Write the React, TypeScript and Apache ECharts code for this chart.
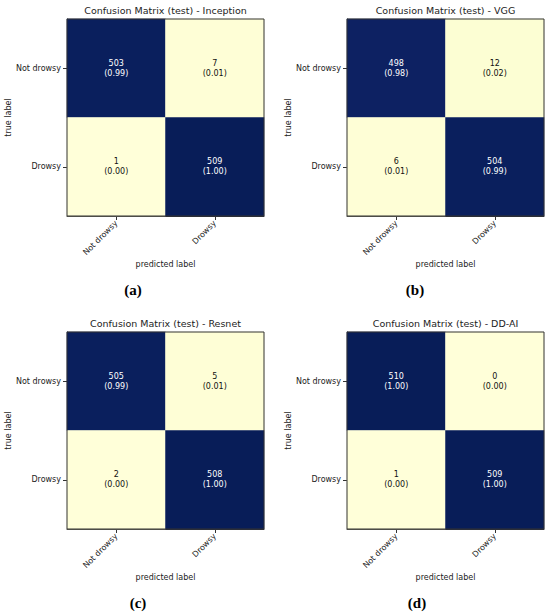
import * as echarts from "echarts";
import { useEffect, useRef } from "react";

const classes = ["Not drowsy", "Drowsy"];
const modelNames = ["Inception", "VGG", "Resnet", "DD-AI"];
const captions = ["(a)", "(b)", "(c)", "(d)"];

// counts per row = true label, column = predicted label
const inceptionCounts = [[503, 7], [1, 509]];
const vggCounts = [[498, 12], [6, 504]];
const resnetCounts = [[505, 5], [2, 508]];
const ddaiCounts = [[510, 0], [1, 509]];

// normalised values as printed under each count
const inceptionRatios = [[0.99, 0.01], [0.0, 1.0]];
const vggRatios = [[0.98, 0.02], [0.01, 0.99]];
const resnetRatios = [[0.99, 0.01], [0.0, 1.0]];
const ddaiRatios = [[1.0, 0.0], [0.0, 1.0]];

const allCounts = [inceptionCounts, vggCounts, resnetCounts, ddaiCounts];
const allRatios = [inceptionRatios, vggRatios, resnetRatios, ddaiRatios];

const FONT = "DejaVu Sans";
const ylgnbu = ["#ffffd9", "#edf8b1", "#c7e9b4", "#7fcdbb", "#41b6c4", "#1d91c0", "#225ea8", "#253494", "#081d58"];

// panel layout: matrix left/top; caption x/y
const panels = [
    { left: 67, top: 19, capX: 133, capY: 290 },
    { left: 347, top: 19, capX: 415, capY: 290 },
    { left: 67, top: 332, capX: 138, capY: 603 },
    { left: 347, top: 332, capX: 417, capY: 603 },
];
const SIZE = 197;

const App: React.FC = () => {
    const node = useRef<HTMLDivElement>(null);

    useEffect(() => {
        document.body.style.margin = "0";
        const chart = echarts.init(node.current, null, { renderer: "svg" });

        const option: echarts.EChartsOption = {
            animation: false,
            backgroundColor: "#ffffff",
            title: panels.map((p, i) => ({
                text: "Confusion Matrix (test) - " + modelNames[i],
                left: p.left + SIZE / 2,
                top: p.top - 14,
                padding: 0,
                textAlign: "center",
                textStyle: { fontFamily: FONT, fontSize: 9.5, fontWeight: "normal", color: "#222" },
            })),
            grid: panels.map((p) => ({ left: p.left, top: p.top, width: SIZE, height: SIZE })),
            xAxis: panels.map((_, i) => ({
                type: "category",
                gridIndex: i,
                data: classes,
                name: "predicted label",
                nameLocation: "middle",
                nameGap: 44,
                nameTextStyle: { fontFamily: FONT, fontSize: 8, color: "#222" },
                axisLine: { show: true, lineStyle: { color: "#333" } },
                axisTick: { show: true, alignWithLabel: true, length: 4, lineStyle: { color: "#333" } },
                axisLabel: { rotate: 45, fontFamily: FONT, fontSize: 8, color: "#222", margin: 6 },
                splitLine: { show: false },
            })),
            yAxis: panels.map((_, i) => ({
                type: "category",
                gridIndex: i,
                data: classes,
                inverse: true,
                name: "true label",
                nameLocation: "middle",
                nameGap: 52,
                nameTextStyle: { fontFamily: FONT, fontSize: 8, color: "#222" },
                axisLine: { show: true, lineStyle: { color: "#333" } },
                axisTick: { show: true, alignWithLabel: true, length: 4, lineStyle: { color: "#333" } },
                axisLabel: { fontFamily: FONT, fontSize: 8, color: "#222", margin: 6 },
                splitLine: { show: false },
            })),
            visualMap: {
                show: false,
                min: 0,
                max: 1,
                dimension: 2,
                seriesIndex: [0, 1, 2, 3],
                inRange: { color: ylgnbu },
            },
            series: panels.map((_, i) => ({
                type: "heatmap",
                xAxisIndex: i,
                yAxisIndex: i,
                data: allCounts[i].flatMap((row, r) =>
                    row.map((count, c) => ({
                        value: [c, r, allRatios[i][r][c], count],
                        label: { color: allRatios[i][r][c] > 0.5 ? "#ffffff" : "#111111" },
                    }))
                ),
                label: {
                    show: true,
                    fontFamily: FONT,
                    fontSize: 8,
                    lineHeight: 10,
                    formatter: (p: any) => `${p.value[3]}\n(${p.value[2].toFixed(2)})`,
                },
                emphasis: { disabled: true },
            })),
            graphic: [
                ...panels.map((p) => ({
                    type: "rect" as const,
                    z: 100,
                    shape: { x: p.left, y: p.top, width: SIZE, height: SIZE },
                    style: { fill: "none", stroke: "#333", lineWidth: 1 },
                    silent: true,
                })),
                ...panels.map((p, i) => ({
                    type: "text" as const,
                    z: 100,
                    x: p.capX,
                    y: p.capY,
                    style: {
                        text: captions[i],
                        fill: "#000",
                        font: "bold 15px 'Liberation Serif'",
                        textAlign: "center",
                        textVerticalAlign: "middle",
                    },
                })),
            ],
        };

        chart.setOption(option);
        return () => {
            chart.dispose();
        };
    }, []);

    return <div style={{ width: 550, height: 613 }} ref={node}></div>;
};

export default App;
